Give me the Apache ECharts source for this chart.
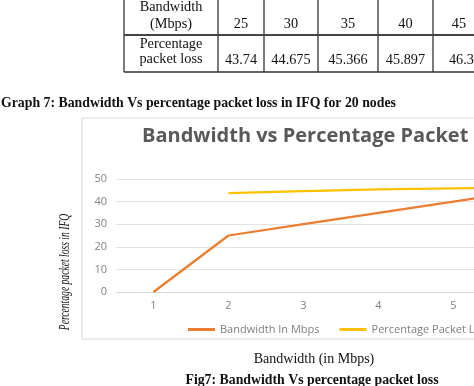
<!DOCTYPE html>
<html><head><meta charset="utf-8">
<script src="https://cdn.jsdelivr.net/npm/echarts@6/dist/echarts.min.js"></script>
<style>html,body{margin:0;padding:0;background:#fff;overflow:hidden;width:474px;height:386px}#c{width:640px;height:386px}</style>
</head><body><div id="c"></div>
<script>
const categories = ['1','2','3','4','5','6'];
const bandwidthMbps = [0, 25, 30, 35, 40, 45];
const packetLoss = [null, 43.74, 44.675, 45.366, 45.897, 46.32];
const tableBandwidth = ['25','30','35','40','45'];
const tableLoss = ['43.74','44.675','45.366','45.897','46.32'];

const serif = '"Liberation Serif", "Times New Roman", serif';
const sans = '"Open Sans", "Noto Sans", sans-serif';

// table geometry
const colX = [124, 218, 264, 318, 378, 433, 492];
const rowY = [-5, 35, 72];
const g = [];
colX.forEach(x => g.push({type:'line', shape:{x1:x,y1:rowY[0],x2:x,y2:rowY[2]}, style:{stroke:'#333',lineWidth:1.3}}));
g.push({type:'line', shape:{x1:colX[0],y1:rowY[1],x2:520,y2:rowY[1]}, style:{stroke:'#444',lineWidth:2}});
g.push({type:'line', shape:{x1:colX[0],y1:rowY[2],x2:520,y2:rowY[2]}, style:{stroke:'#333',lineWidth:1.3}});
const tfont = '14.3px ' + serif;
g.push({type:'text', x:171, y:7, style:{text:'Bandwidth', font:tfont, fill:'#111', align:'center', verticalAlign:'middle'}});
g.push({type:'text', x:171, y:24, style:{text:'(Mbps)', font:tfont, fill:'#111', align:'center', verticalAlign:'middle'}});
g.push({type:'text', x:171, y:44, style:{text:'Percentage', font:tfont, fill:'#111', align:'center', verticalAlign:'middle'}});
g.push({type:'text', x:171, y:59, style:{text:'packet loss', font:tfont, fill:'#111', align:'center', verticalAlign:'middle'}});
tableBandwidth.forEach((t,i) => {
  const cx = i === 4 ? 459 : (colX[i+1] + colX[i+2]) / 2;
  g.push({type:'text', x:cx, y:24, style:{text:t, font:tfont, fill:'#111', align:'center', verticalAlign:'middle'}});
});
tableLoss.forEach((t,i) => {
  const cx = i === 4 ? 465 : (colX[i+1] + colX[i+2]) / 2;
  g.push({type:'text', x:cx, y:60, style:{text:t, font:tfont, fill:'#111', align:'center', verticalAlign:'middle'}});
});
// captions
g.push({type:'text', x:1, y:103, style:{text:'Graph 7: Bandwidth Vs percentage packet loss in IFQ for 20 nodes', font:'bold 13.8px ' + serif, fill:'#111', align:'left', verticalAlign:'middle'}});
// chart box
g.push({type:'rect', z:-10, shape:{x:82, y:118, width:520, height:221}, style:{fill:'#fff', stroke:'#d9d9d9', lineWidth:1}});
g.push({type:'text', x:142, y:136, style:{text:'Bandwidth vs Percentage Packet Loss', font:'bold 20px ' + sans, fill:'#595959', align:'left', verticalAlign:'middle'}});
// y axis name (condensed italic)
g.push({type:'text', x:65, y:272, rotation:Math.PI/2, scaleX:0.64, style:{text:'Percentage packet loss in IFQ', font:'italic 15px ' + serif, fill:'#111', align:'center', verticalAlign:'middle'}});
g.push({type:'text', x:314, y:359, style:{text:'Bandwidth (in Mbps)', font:'14px ' + serif, fill:'#111', align:'center', verticalAlign:'middle'}});
g.push({type:'text', x:312, y:380, style:{text:'Fig7: Bandwidth Vs percentage packet loss', font:'bold 13.8px ' + serif, fill:'#111', align:'center', verticalAlign:'middle'}});

const chart = echarts.init(document.getElementById('c'), null, {renderer:'canvas'});
chart.setOption({
  animation:false,
  backgroundColor:'#fff',
  graphic: g,
  grid:{left:116, top:179, width:450, height:113, containLabel:false, outerBoundsMode:'none'},
  xAxis:{type:'category', data:categories, boundaryGap:true,
    axisLine:{lineStyle:{color:'#d9d9d9'}}, axisTick:{show:false},
    axisLabel:{color:'#7f7f7f', fontFamily:sans, fontSize:11, margin:8}},
  yAxis:{type:'value', min:0, max:50, interval:10,
    axisLine:{show:false}, axisTick:{show:false},
    splitLine:{lineStyle:{color:'#e3e3e3'}},
    axisLabel:{color:'#7f7f7f', fontFamily:sans, fontSize:11, margin:9}},
  legend:{left:183, top:319, itemWidth:27, itemHeight:3, itemGap:20, icon:'rect',
    textStyle:{color:'#7f7f7f', fontFamily:sans, fontSize:11},
    data:['Bandwidth In Mbps','Percentage Packet Loss']},
  series:[
    {name:'Bandwidth In Mbps', type:'line', data:bandwidthMbps, showSymbol:false, symbol:'none',
      lineStyle:{color:'#ED7D31', width:2.25}, itemStyle:{color:'#ED7D31'}},
    {name:'Percentage Packet Loss', type:'line', data:packetLoss, showSymbol:false, symbol:'none',
      lineStyle:{color:'#FFC000', width:2.25}, itemStyle:{color:'#FFC000'}}
  ]
});
</script></body></html>
